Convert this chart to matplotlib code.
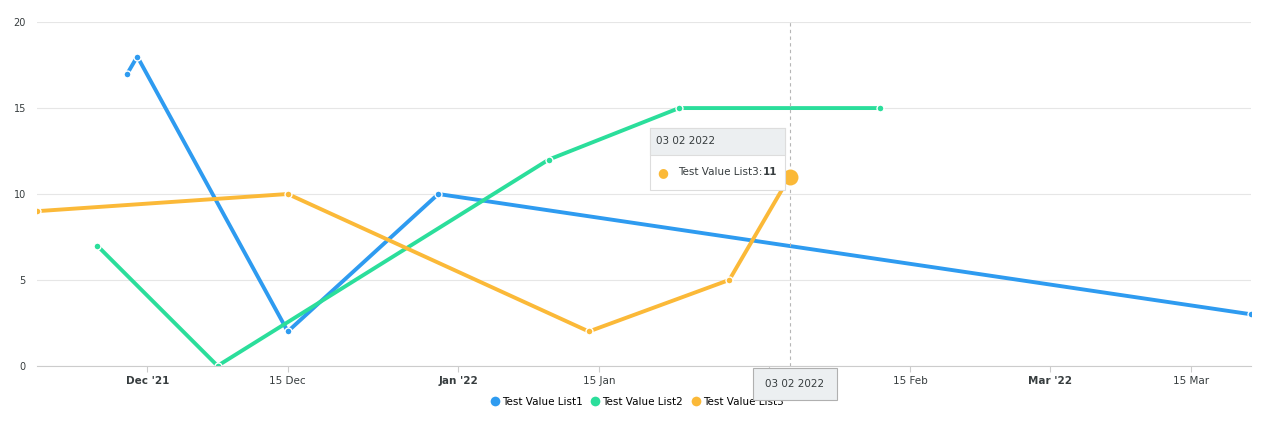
import matplotlib.pyplot as plt
from matplotlib.patches import Rectangle
import numpy as np

list1_dates = ["2021-11-29", "2021-11-30", "2021-12-15", "2021-12-30", "2022-03-21"]
list1_vals = [17, 18, 2, 10, 3]
list2_dates = ["2021-11-26", "2021-12-08", "2022-01-10", "2022-01-23", "2022-02-12"]
list2_vals = [7, 0, 12, 15, 15]
list3_dates = ["2021-11-20", "2021-12-15", "2022-01-14", "2022-01-28", "2022-02-03"]
list3_vals = [9, 10, 2, 5, 11]
names = ["Test Value List1", "Test Value List2", "Test Value List3"]
colors = ["#2E9BF0", "#2BDE9B", "#FBB938"]

tick_dates = ["2021-12-01", "2021-12-15", "2022-01-01", "2022-01-15", "2022-02-01", "2022-02-15", "2022-03-01", "2022-03-15"]
tick_labels = ["Dec '21", "15 Dec", "Jan '22", "15 Jan", "Feb", "15 Feb", "Mar '22", "15 Mar"]

fig = plt.figure(figsize=(12.74, 4.34), dpi=100)
ax = fig.add_axes([0.029, 0.157, 0.953, 0.792])

series = [(list1_dates, list1_vals), (list2_dates, list2_vals), (list3_dates, list3_vals)]
for (d, v), c, n in zip(series, colors, names):
    ax.plot(np.array(d, dtype="datetime64[D]"), v, color=c, lw=2.8, marker="o", ms=5,
            markeredgecolor="white", markeredgewidth=1, label=n, solid_capstyle="round")

ax.set_xlim(np.datetime64("2021-11-20"), np.datetime64("2022-03-21"))
ax.set_ylim(0, 20)
ax.set_yticks([0, 5, 10, 15, 20])
ax.grid(axis="y", color="#e6e6e6", lw=0.8)
ax.set_axisbelow(True)
for s in ["top", "right", "left"]:
    ax.spines[s].set_visible(False)
ax.spines["bottom"].set_color("#cccccc")
ax.tick_params(axis="y", length=0, labelsize=7, colors="#373d3f", pad=8)
ax.tick_params(axis="x", length=4, color="#cccccc", labelsize=7.5, colors="#373d3f")
ax.set_xticks(np.array(tick_dates, dtype="datetime64[D]"))
ax.set_xticklabels(tick_labels)
for lab in ax.get_xticklabels():
    if "'" in lab.get_text():
        lab.set_fontweight("bold")

# hover state at 03 02 2022
hx = np.datetime64("2022-02-03")
ax.axvline(hx, color="#b6b6b6", lw=0.8, ls=(0, (3, 3)))
ax.plot([hx], [11], "o", color=colors[2], ms=13, markeredgecolor="white", markeredgewidth=1.5, zorder=5)

# tooltip
fig.patches.append(Rectangle((0.510, 0.562), 0.106, 0.143, transform=fig.transFigure,
                             fc="white", ec="#dddddd", lw=0.8, zorder=6))
fig.patches.append(Rectangle((0.510, 0.643), 0.106, 0.062, transform=fig.transFigure,
                             fc="#eceff1", ec="#dddddd", lw=0.8, zorder=6))
fig.text(0.515, 0.674, "03 02 2022", fontsize=7.5, va="center", color="#373d3f", zorder=7)
fig.text(0.516, 0.603, "\u25cf", fontsize=9, va="center", color=colors[2], zorder=7)
fig.text(0.532, 0.603, "Test Value List3:", fontsize=7.5, va="center", color="#373d3f", zorder=7)
fig.text(0.599, 0.603, "11", fontsize=7.5, va="center", fontweight="bold", color="#373d3f", zorder=7)

fig.legend(loc="center", ncol=3, frameon=False, fontsize=7.5, handlelength=0.8,
           handletextpad=0.3, columnspacing=0.8, bbox_to_anchor=(0.5, 0.074))
for h in fig.legends[0].legend_handles:
    h.set_linestyle("none")
    h.set_markersize(8)

# x crosshair label
fig.patches.append(Rectangle((0.591, 0.078), 0.066, 0.074, transform=fig.transFigure,
                             fc="#eceff1", ec="#b0b0b0", lw=0.8, zorder=8))
fig.text(0.624, 0.115, "03 02 2022", fontsize=7.5, ha="center", va="center", color="#373d3f", zorder=9)

fig.savefig("out.png", dpi=100)
